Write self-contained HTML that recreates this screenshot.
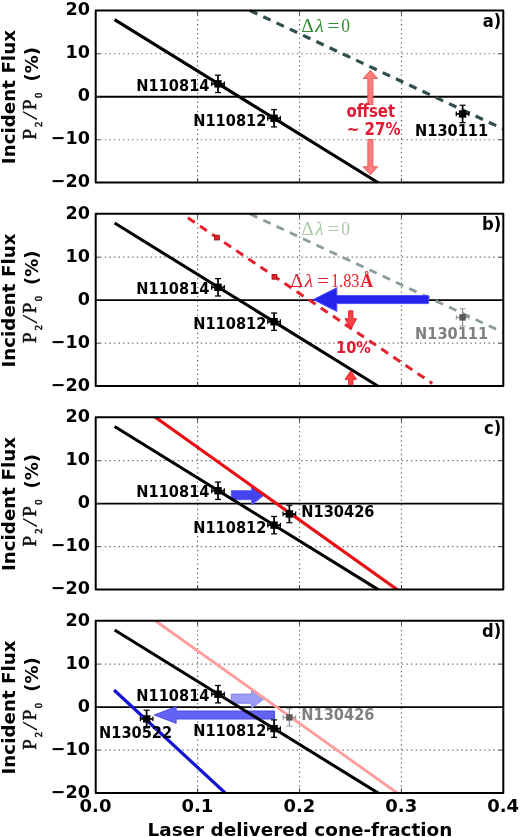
<!DOCTYPE html>
<html><head><meta charset="utf-8"><title>Incident Flux vs cone-fraction</title>
<style>html,body{margin:0;padding:0;background:#fff}svg{display:block;filter:blur(0.6px)}</style></head>
<body>
<svg width="520" height="837" viewBox="0 0 520 837">
<defs>
<clipPath id="c0"><rect x="95.7" y="10.40" width="407.60" height="172.2"/></clipPath>
<clipPath id="c1"><rect x="95.7" y="213.85" width="407.60" height="172.2"/></clipPath>
<clipPath id="c2"><rect x="95.7" y="417.30" width="407.60" height="172.2"/></clipPath>
<clipPath id="c3"><rect x="95.7" y="620.75" width="407.60" height="172.2"/></clipPath>
</defs>
<rect width="520" height="837" fill="#fff"/>
<line x1="197.62" y1="10.40" x2="197.62" y2="182.60" stroke="#666" stroke-width="1.2" stroke-dasharray="1.3 3.27"/>
<line x1="299.54" y1="10.40" x2="299.54" y2="182.60" stroke="#666" stroke-width="1.2" stroke-dasharray="1.3 3.27"/>
<line x1="401.46" y1="10.40" x2="401.46" y2="182.60" stroke="#666" stroke-width="1.2" stroke-dasharray="1.3 3.27"/>
<line x1="95.70" y1="53.75" x2="503.30" y2="53.75" stroke="#666" stroke-width="1.2" stroke-dasharray="1.3 3.27"/>
<line x1="95.70" y1="139.75" x2="503.30" y2="139.75" stroke="#666" stroke-width="1.2" stroke-dasharray="1.3 3.27"/>
<g clip-path="url(#c0)">
<line x1="95.70" y1="96.75" x2="503.30" y2="96.75" stroke="#000" stroke-width="1.8"/>
<line x1="114.60" y1="19.60" x2="378.60" y2="183.00" stroke="#000" stroke-width="3.05"/>
<line x1="250.00" y1="10.50" x2="503.30" y2="129.00" stroke="#2f4f4f" stroke-width="3.2" stroke-dasharray="8.1 6.55"/>
</g>
<g stroke="#000" stroke-width="1.75" fill="#000">
<line x1="218.00" y1="75.15" x2="218.00" y2="92.55"/>
<line x1="211.70" y1="83.85" x2="224.30" y2="83.85"/>
<line x1="215.00" y1="75.15" x2="221.00" y2="75.15" stroke-width="1.26"/>
<line x1="215.00" y1="92.55" x2="221.00" y2="92.55" stroke-width="1.26"/>
<line x1="211.70" y1="81.45" x2="211.70" y2="86.25" stroke-width="1.26"/>
<line x1="224.30" y1="81.45" x2="224.30" y2="86.25" stroke-width="1.26"/>
<rect x="214.30" y="80.15" width="7.4" height="7.4" stroke="none"/>
</g>
<g stroke="#000" stroke-width="1.75" fill="#000">
<line x1="274.06" y1="109.55" x2="274.06" y2="126.95"/>
<line x1="267.76" y1="118.25" x2="280.36" y2="118.25"/>
<line x1="271.06" y1="109.55" x2="277.06" y2="109.55" stroke-width="1.26"/>
<line x1="271.06" y1="126.95" x2="277.06" y2="126.95" stroke-width="1.26"/>
<line x1="267.76" y1="115.85" x2="267.76" y2="120.65" stroke-width="1.26"/>
<line x1="280.36" y1="115.85" x2="280.36" y2="120.65" stroke-width="1.26"/>
<rect x="270.36" y="114.55" width="7.4" height="7.4" stroke="none"/>
</g>
<g stroke="#000" stroke-width="1.75" fill="#000">
<line x1="462.61" y1="105.25" x2="462.61" y2="122.65"/>
<line x1="456.31" y1="113.95" x2="468.91" y2="113.95"/>
<line x1="459.61" y1="105.25" x2="465.61" y2="105.25" stroke-width="1.26"/>
<line x1="459.61" y1="122.65" x2="465.61" y2="122.65" stroke-width="1.26"/>
<line x1="456.31" y1="111.55" x2="456.31" y2="116.35" stroke-width="1.26"/>
<line x1="468.91" y1="111.55" x2="468.91" y2="116.35" stroke-width="1.26"/>
<rect x="458.91" y="110.25" width="7.4" height="7.4" stroke="none"/>
</g>
<text transform="translate(136.30,90.50) scale(1,1.12)" font-family='"DejaVu Sans","Liberation Sans",sans-serif' font-size="14.6" font-weight="bold" fill="#000" text-anchor="start">N110814</text>
<text transform="translate(193.20,126.00) scale(1,1.12)" font-family='"DejaVu Sans","Liberation Sans",sans-serif' font-size="14.6" font-weight="bold" fill="#000" text-anchor="start">N110812</text>
<text transform="translate(415.00,136.00) scale(1,1.12)" font-family='"DejaVu Sans","Liberation Sans",sans-serif' font-size="14.6" font-weight="bold" fill="#000" text-anchor="start">N130111</text>
<text y="31.60" font-family='"Liberation Serif","DejaVu Serif",serif' font-size="19.5" fill="#2e8b2e"><tspan x="301.2">Δ</tspan><tspan x="315.2" font-style="italic">λ</tspan><tspan x="327.6" textLength="12" lengthAdjust="spacingAndGlyphs">=</tspan><tspan x="341.2" textLength="8.8" lengthAdjust="spacingAndGlyphs">0</tspan></text>
<polygon points="367.90,104.50 367.90,78.40 363.20,78.40 370.40,70.40 377.60,78.40 372.90,78.40 372.90,104.50" fill="#ff7d7d" stroke="#e85a5a" stroke-width="1"/>
<polygon points="367.90,139.50 367.90,166.80 363.20,166.80 370.40,174.80 377.60,166.80 372.90,166.80 372.90,139.50" fill="#ff7d7d" stroke="#e85a5a" stroke-width="1"/>
<text transform="translate(370.80,116.60) scale(1,1.12)" font-family='"DejaVu Sans","Liberation Sans",sans-serif' font-size="15.0" font-weight="bold" fill="#e01a30" text-anchor="middle">offset</text>
<text transform="translate(373.60,135.30) scale(1,1.12)" font-family='"DejaVu Sans","Liberation Sans",sans-serif' font-size="15.0" font-weight="bold" fill="#e01a30" text-anchor="middle">~ 27%</text>
<rect x="95.70" y="10.40" width="407.60" height="172.20" fill="none" stroke="#000" stroke-width="2.0" stroke-linejoin="round"/>
<text transform="translate(90.00,15.15) scale(1,1.04)" font-family='"DejaVu Sans","Liberation Sans",sans-serif' font-size="17.6" font-weight="bold" fill="#000" text-anchor="end">20</text>
<text transform="translate(90.00,58.15) scale(1,1.04)" font-family='"DejaVu Sans","Liberation Sans",sans-serif' font-size="17.6" font-weight="bold" fill="#000" text-anchor="end">10</text>
<text transform="translate(90.00,101.15) scale(1,1.04)" font-family='"DejaVu Sans","Liberation Sans",sans-serif' font-size="17.6" font-weight="bold" fill="#000" text-anchor="end">0</text>
<text transform="translate(90.00,144.15) scale(1,1.04)" font-family='"DejaVu Sans","Liberation Sans",sans-serif' font-size="17.6" font-weight="bold" fill="#000" text-anchor="end">−10</text>
<text transform="translate(90.00,187.15) scale(1,1.04)" font-family='"DejaVu Sans","Liberation Sans",sans-serif' font-size="17.6" font-weight="bold" fill="#000" text-anchor="end">−20</text>
<text transform="translate(501.20,26.90) scale(1,1.04)" font-family='"DejaVu Sans","Liberation Sans",sans-serif' font-size="16.4" font-weight="bold" fill="#000" text-anchor="end">a)</text>
<text transform="translate(15.4,97.10) rotate(-90)" font-family='"DejaVu Sans","Liberation Sans",sans-serif' font-size="18.3" font-weight="bold" text-anchor="middle">Incident Flux</text>
<text transform="translate(36.2,139.50) rotate(-90)" fill="#111" stroke="#111" stroke-width="0.55" font-family='"Liberation Serif","DejaVu Serif",serif'><tspan x="0" y="0" font-size="19">P</tspan><tspan x="12.6" y="5.8" font-size="10.5">2</tspan><tspan x="19.2" y="0.8" font-size="21" textLength="9.4" lengthAdjust="spacingAndGlyphs" stroke="none">/</tspan><tspan x="29.6" y="0" font-size="19">P</tspan><tspan x="41.6" y="5.8" font-size="10.5">0</tspan><tspan x="58.0" y="1.6" font-family='"DejaVu Sans","Liberation Sans",sans-serif' font-weight="bold" font-size="18.0" fill="#000" stroke="none">(%)</tspan></text>
<line x1="197.62" y1="10.40" x2="197.62" y2="14.90" stroke="#333" stroke-width="0.9"/>
<line x1="197.62" y1="182.60" x2="197.62" y2="178.10" stroke="#333" stroke-width="0.9"/>
<line x1="299.54" y1="10.40" x2="299.54" y2="14.90" stroke="#333" stroke-width="0.9"/>
<line x1="299.54" y1="182.60" x2="299.54" y2="178.10" stroke="#333" stroke-width="0.9"/>
<line x1="401.46" y1="10.40" x2="401.46" y2="14.90" stroke="#333" stroke-width="0.9"/>
<line x1="401.46" y1="182.60" x2="401.46" y2="178.10" stroke="#333" stroke-width="0.9"/>
<line x1="95.70" y1="53.75" x2="100.20" y2="53.75" stroke="#333" stroke-width="0.9"/>
<line x1="503.30" y1="53.75" x2="498.80" y2="53.75" stroke="#333" stroke-width="0.9"/>
<line x1="95.70" y1="96.75" x2="100.20" y2="96.75" stroke="#333" stroke-width="0.9"/>
<line x1="503.30" y1="96.75" x2="498.80" y2="96.75" stroke="#333" stroke-width="0.9"/>
<line x1="95.70" y1="139.75" x2="100.20" y2="139.75" stroke="#333" stroke-width="0.9"/>
<line x1="503.30" y1="139.75" x2="498.80" y2="139.75" stroke="#333" stroke-width="0.9"/>
<line x1="197.62" y1="213.85" x2="197.62" y2="386.05" stroke="#666" stroke-width="1.2" stroke-dasharray="1.3 3.27"/>
<line x1="299.54" y1="213.85" x2="299.54" y2="386.05" stroke="#666" stroke-width="1.2" stroke-dasharray="1.3 3.27"/>
<line x1="401.46" y1="213.85" x2="401.46" y2="386.05" stroke="#666" stroke-width="1.2" stroke-dasharray="1.3 3.27"/>
<line x1="95.70" y1="257.20" x2="503.30" y2="257.20" stroke="#666" stroke-width="1.2" stroke-dasharray="1.3 3.27"/>
<line x1="95.70" y1="343.20" x2="503.30" y2="343.20" stroke="#666" stroke-width="1.2" stroke-dasharray="1.3 3.27"/>
<g clip-path="url(#c1)">
<line x1="95.70" y1="300.20" x2="503.30" y2="300.20" stroke="#000" stroke-width="1.8"/>
<polygon points="348.70,310.80 348.70,318.70 345.10,318.70 350.80,329.20 356.50,318.70 352.90,318.70 352.90,310.80" fill="#ff4040" stroke="#e6202d" stroke-width="1"/>
<polygon points="348.70,392.00 348.70,379.30 345.10,379.30 350.80,370.80 356.50,379.30 352.90,379.30 352.90,392.00" fill="#ff4040" stroke="#e6202d" stroke-width="1"/>
<line x1="114.60" y1="223.05" x2="378.60" y2="386.45" stroke="#000" stroke-width="3.05"/>
<line x1="250.00" y1="213.95" x2="503.30" y2="332.45" stroke="#8b9c9c" stroke-width="2.8" stroke-dasharray="8.1 6.55"/>
<line x1="187.90" y1="217.80" x2="432.30" y2="383.40" stroke="#e6202d" stroke-width="3.0" stroke-dasharray="8.3 6.3"/>
</g>
<rect x="214.50" y="235.20" width="4.8" height="4.8" fill="#e6202d" stroke="#8a1010" stroke-width="0.8"/>
<rect x="272.00" y="274.40" width="4.8" height="4.8" fill="#e6202d" stroke="#8a1010" stroke-width="0.8"/>
<g stroke="#000" stroke-width="1.75" fill="#000">
<line x1="218.00" y1="278.60" x2="218.00" y2="296.00"/>
<line x1="211.70" y1="287.30" x2="224.30" y2="287.30"/>
<line x1="215.00" y1="278.60" x2="221.00" y2="278.60" stroke-width="1.26"/>
<line x1="215.00" y1="296.00" x2="221.00" y2="296.00" stroke-width="1.26"/>
<line x1="211.70" y1="284.90" x2="211.70" y2="289.70" stroke-width="1.26"/>
<line x1="224.30" y1="284.90" x2="224.30" y2="289.70" stroke-width="1.26"/>
<rect x="214.30" y="283.60" width="7.4" height="7.4" stroke="none"/>
</g>
<g stroke="#000" stroke-width="1.75" fill="#000">
<line x1="274.06" y1="313.00" x2="274.06" y2="330.40"/>
<line x1="267.76" y1="321.70" x2="280.36" y2="321.70"/>
<line x1="271.06" y1="313.00" x2="277.06" y2="313.00" stroke-width="1.26"/>
<line x1="271.06" y1="330.40" x2="277.06" y2="330.40" stroke-width="1.26"/>
<line x1="267.76" y1="319.30" x2="267.76" y2="324.10" stroke-width="1.26"/>
<line x1="280.36" y1="319.30" x2="280.36" y2="324.10" stroke-width="1.26"/>
<rect x="270.36" y="318.00" width="7.4" height="7.4" stroke="none"/>
</g>
<g stroke="#8c8c8c" stroke-width="1.2" fill="#585858">
<line x1="462.61" y1="308.70" x2="462.61" y2="326.10"/>
<line x1="456.31" y1="317.40" x2="468.91" y2="317.40"/>
<line x1="459.61" y1="308.70" x2="465.61" y2="308.70" stroke-width="0.86"/>
<line x1="459.61" y1="326.10" x2="465.61" y2="326.10" stroke-width="0.86"/>
<line x1="456.31" y1="315.00" x2="456.31" y2="319.80" stroke-width="0.86"/>
<line x1="468.91" y1="315.00" x2="468.91" y2="319.80" stroke-width="0.86"/>
<rect x="459.41" y="314.20" width="6.4" height="6.4" stroke="none"/>
</g>
<text transform="translate(136.30,293.95) scale(1,1.12)" font-family='"DejaVu Sans","Liberation Sans",sans-serif' font-size="14.6" font-weight="bold" fill="#000" text-anchor="start">N110814</text>
<text transform="translate(193.20,329.45) scale(1,1.12)" font-family='"DejaVu Sans","Liberation Sans",sans-serif' font-size="14.6" font-weight="bold" fill="#000" text-anchor="start">N110812</text>
<text transform="translate(415.00,339.45) scale(1,1.12)" font-family='"DejaVu Sans","Liberation Sans",sans-serif' font-size="14.6" font-weight="bold" fill="#808080" text-anchor="start">N130111</text>
<text y="235.05" font-family='"Liberation Serif","DejaVu Serif",serif' font-size="19.5" fill="#a9c9a9"><tspan x="301.2">Δ</tspan><tspan x="315.2" font-style="italic">λ</tspan><tspan x="327.6" textLength="12" lengthAdjust="spacingAndGlyphs">=</tspan><tspan x="341.2" textLength="8.8" lengthAdjust="spacingAndGlyphs">0</tspan></text>
<text y="287.2" font-family='"Liberation Serif","DejaVu Serif",serif' font-size="19.5" fill="#e6202d"><tspan x="290.4">Δ</tspan><tspan x="304.8" font-style="italic">λ</tspan><tspan x="317.2" textLength="11.6" lengthAdjust="spacingAndGlyphs">=</tspan><tspan x="331" textLength="28.4" lengthAdjust="spacingAndGlyphs">1.83</tspan><tspan x="360.3" font-weight="bold" font-size="18">Å</tspan></text>
<polygon points="428.40,295.60 336.80,295.60 336.80,287.80 313.20,299.60 336.80,311.40 336.80,303.60 428.40,303.60" fill="#2424ea" stroke="#4c4cff" stroke-width="1" opacity="1"/>
<text transform="translate(353.50,353.00) scale(1,1.12)" font-family='"DejaVu Sans","Liberation Sans",sans-serif' font-size="14.6" font-weight="bold" fill="#e01a30" text-anchor="middle">10%</text>
<rect x="95.70" y="213.85" width="407.60" height="172.20" fill="none" stroke="#000" stroke-width="2.0" stroke-linejoin="round"/>
<text transform="translate(90.00,218.60) scale(1,1.04)" font-family='"DejaVu Sans","Liberation Sans",sans-serif' font-size="17.6" font-weight="bold" fill="#000" text-anchor="end">20</text>
<text transform="translate(90.00,261.60) scale(1,1.04)" font-family='"DejaVu Sans","Liberation Sans",sans-serif' font-size="17.6" font-weight="bold" fill="#000" text-anchor="end">10</text>
<text transform="translate(90.00,304.60) scale(1,1.04)" font-family='"DejaVu Sans","Liberation Sans",sans-serif' font-size="17.6" font-weight="bold" fill="#000" text-anchor="end">0</text>
<text transform="translate(90.00,347.60) scale(1,1.04)" font-family='"DejaVu Sans","Liberation Sans",sans-serif' font-size="17.6" font-weight="bold" fill="#000" text-anchor="end">−10</text>
<text transform="translate(90.00,390.60) scale(1,1.04)" font-family='"DejaVu Sans","Liberation Sans",sans-serif' font-size="17.6" font-weight="bold" fill="#000" text-anchor="end">−20</text>
<text transform="translate(501.20,230.35) scale(1,1.04)" font-family='"DejaVu Sans","Liberation Sans",sans-serif' font-size="16.4" font-weight="bold" fill="#000" text-anchor="end">b)</text>
<text transform="translate(15.4,300.55) rotate(-90)" font-family='"DejaVu Sans","Liberation Sans",sans-serif' font-size="18.3" font-weight="bold" text-anchor="middle">Incident Flux</text>
<text transform="translate(36.2,342.95) rotate(-90)" fill="#111" stroke="#111" stroke-width="0.55" font-family='"Liberation Serif","DejaVu Serif",serif'><tspan x="0" y="0" font-size="19">P</tspan><tspan x="12.6" y="5.8" font-size="10.5">2</tspan><tspan x="19.2" y="0.8" font-size="21" textLength="9.4" lengthAdjust="spacingAndGlyphs" stroke="none">/</tspan><tspan x="29.6" y="0" font-size="19">P</tspan><tspan x="41.6" y="5.8" font-size="10.5">0</tspan><tspan x="58.0" y="1.6" font-family='"DejaVu Sans","Liberation Sans",sans-serif' font-weight="bold" font-size="18.0" fill="#000" stroke="none">(%)</tspan></text>
<line x1="197.62" y1="213.85" x2="197.62" y2="218.35" stroke="#333" stroke-width="0.9"/>
<line x1="197.62" y1="386.05" x2="197.62" y2="381.55" stroke="#333" stroke-width="0.9"/>
<line x1="299.54" y1="213.85" x2="299.54" y2="218.35" stroke="#333" stroke-width="0.9"/>
<line x1="299.54" y1="386.05" x2="299.54" y2="381.55" stroke="#333" stroke-width="0.9"/>
<line x1="401.46" y1="213.85" x2="401.46" y2="218.35" stroke="#333" stroke-width="0.9"/>
<line x1="401.46" y1="386.05" x2="401.46" y2="381.55" stroke="#333" stroke-width="0.9"/>
<line x1="95.70" y1="257.20" x2="100.20" y2="257.20" stroke="#333" stroke-width="0.9"/>
<line x1="503.30" y1="257.20" x2="498.80" y2="257.20" stroke="#333" stroke-width="0.9"/>
<line x1="95.70" y1="300.20" x2="100.20" y2="300.20" stroke="#333" stroke-width="0.9"/>
<line x1="503.30" y1="300.20" x2="498.80" y2="300.20" stroke="#333" stroke-width="0.9"/>
<line x1="95.70" y1="343.20" x2="100.20" y2="343.20" stroke="#333" stroke-width="0.9"/>
<line x1="503.30" y1="343.20" x2="498.80" y2="343.20" stroke="#333" stroke-width="0.9"/>
<line x1="197.62" y1="417.30" x2="197.62" y2="589.50" stroke="#666" stroke-width="1.2" stroke-dasharray="1.3 3.27"/>
<line x1="299.54" y1="417.30" x2="299.54" y2="589.50" stroke="#666" stroke-width="1.2" stroke-dasharray="1.3 3.27"/>
<line x1="401.46" y1="417.30" x2="401.46" y2="589.50" stroke="#666" stroke-width="1.2" stroke-dasharray="1.3 3.27"/>
<line x1="95.70" y1="460.65" x2="503.30" y2="460.65" stroke="#666" stroke-width="1.2" stroke-dasharray="1.3 3.27"/>
<line x1="95.70" y1="546.65" x2="503.30" y2="546.65" stroke="#666" stroke-width="1.2" stroke-dasharray="1.3 3.27"/>
<g clip-path="url(#c2)">
<line x1="95.70" y1="503.65" x2="503.30" y2="503.65" stroke="#000" stroke-width="1.8"/>
<polygon points="231.30,490.70 251.60,490.70 251.60,485.60 264.20,495.20 251.60,504.80 251.60,499.70 231.30,499.70" fill="#4444ee" stroke="#5a5aff" stroke-width="1" opacity="1"/>
<line x1="155.00" y1="417.00" x2="397.80" y2="590.00" stroke="#e80f14" stroke-width="3.2"/>
<line x1="114.60" y1="426.50" x2="378.60" y2="589.90" stroke="#000" stroke-width="3.05"/>
</g>
<g stroke="#000" stroke-width="1.75" fill="#000">
<line x1="218.00" y1="482.05" x2="218.00" y2="499.45"/>
<line x1="211.70" y1="490.75" x2="224.30" y2="490.75"/>
<line x1="215.00" y1="482.05" x2="221.00" y2="482.05" stroke-width="1.26"/>
<line x1="215.00" y1="499.45" x2="221.00" y2="499.45" stroke-width="1.26"/>
<line x1="211.70" y1="488.35" x2="211.70" y2="493.15" stroke-width="1.26"/>
<line x1="224.30" y1="488.35" x2="224.30" y2="493.15" stroke-width="1.26"/>
<rect x="214.30" y="487.05" width="7.4" height="7.4" stroke="none"/>
</g>
<g stroke="#000" stroke-width="1.75" fill="#000">
<line x1="274.06" y1="516.45" x2="274.06" y2="533.85"/>
<line x1="267.76" y1="525.15" x2="280.36" y2="525.15"/>
<line x1="271.06" y1="516.45" x2="277.06" y2="516.45" stroke-width="1.26"/>
<line x1="271.06" y1="533.85" x2="277.06" y2="533.85" stroke-width="1.26"/>
<line x1="267.76" y1="522.75" x2="267.76" y2="527.55" stroke-width="1.26"/>
<line x1="280.36" y1="522.75" x2="280.36" y2="527.55" stroke-width="1.26"/>
<rect x="270.36" y="521.45" width="7.4" height="7.4" stroke="none"/>
</g>
<g stroke="#000" stroke-width="1.75" fill="#000">
<line x1="289.35" y1="505.27" x2="289.35" y2="522.67"/>
<line x1="283.05" y1="513.97" x2="295.65" y2="513.97"/>
<line x1="286.35" y1="505.27" x2="292.35" y2="505.27" stroke-width="1.26"/>
<line x1="286.35" y1="522.67" x2="292.35" y2="522.67" stroke-width="1.26"/>
<line x1="283.05" y1="511.57" x2="283.05" y2="516.37" stroke-width="1.26"/>
<line x1="295.65" y1="511.57" x2="295.65" y2="516.37" stroke-width="1.26"/>
<rect x="285.65" y="510.27" width="7.4" height="7.4" stroke="none"/>
</g>
<text transform="translate(136.30,497.40) scale(1,1.12)" font-family='"DejaVu Sans","Liberation Sans",sans-serif' font-size="14.6" font-weight="bold" fill="#000" text-anchor="start">N110814</text>
<text transform="translate(193.20,532.90) scale(1,1.12)" font-family='"DejaVu Sans","Liberation Sans",sans-serif' font-size="14.6" font-weight="bold" fill="#000" text-anchor="start">N110812</text>
<text transform="translate(301.30,516.90) scale(1,1.12)" font-family='"DejaVu Sans","Liberation Sans",sans-serif' font-size="14.6" font-weight="bold" fill="#000" text-anchor="start">N130426</text>
<rect x="95.70" y="417.30" width="407.60" height="172.20" fill="none" stroke="#000" stroke-width="2.0" stroke-linejoin="round"/>
<text transform="translate(90.00,422.05) scale(1,1.04)" font-family='"DejaVu Sans","Liberation Sans",sans-serif' font-size="17.6" font-weight="bold" fill="#000" text-anchor="end">20</text>
<text transform="translate(90.00,465.05) scale(1,1.04)" font-family='"DejaVu Sans","Liberation Sans",sans-serif' font-size="17.6" font-weight="bold" fill="#000" text-anchor="end">10</text>
<text transform="translate(90.00,508.05) scale(1,1.04)" font-family='"DejaVu Sans","Liberation Sans",sans-serif' font-size="17.6" font-weight="bold" fill="#000" text-anchor="end">0</text>
<text transform="translate(90.00,551.05) scale(1,1.04)" font-family='"DejaVu Sans","Liberation Sans",sans-serif' font-size="17.6" font-weight="bold" fill="#000" text-anchor="end">−10</text>
<text transform="translate(90.00,594.05) scale(1,1.04)" font-family='"DejaVu Sans","Liberation Sans",sans-serif' font-size="17.6" font-weight="bold" fill="#000" text-anchor="end">−20</text>
<text transform="translate(501.20,433.80) scale(1,1.04)" font-family='"DejaVu Sans","Liberation Sans",sans-serif' font-size="16.4" font-weight="bold" fill="#000" text-anchor="end">c)</text>
<text transform="translate(15.4,504.00) rotate(-90)" font-family='"DejaVu Sans","Liberation Sans",sans-serif' font-size="18.3" font-weight="bold" text-anchor="middle">Incident Flux</text>
<text transform="translate(36.2,546.40) rotate(-90)" fill="#111" stroke="#111" stroke-width="0.55" font-family='"Liberation Serif","DejaVu Serif",serif'><tspan x="0" y="0" font-size="19">P</tspan><tspan x="12.6" y="5.8" font-size="10.5">2</tspan><tspan x="19.2" y="0.8" font-size="21" textLength="9.4" lengthAdjust="spacingAndGlyphs" stroke="none">/</tspan><tspan x="29.6" y="0" font-size="19">P</tspan><tspan x="41.6" y="5.8" font-size="10.5">0</tspan><tspan x="58.0" y="1.6" font-family='"DejaVu Sans","Liberation Sans",sans-serif' font-weight="bold" font-size="18.0" fill="#000" stroke="none">(%)</tspan></text>
<line x1="197.62" y1="417.30" x2="197.62" y2="421.80" stroke="#333" stroke-width="0.9"/>
<line x1="197.62" y1="589.50" x2="197.62" y2="585.00" stroke="#333" stroke-width="0.9"/>
<line x1="299.54" y1="417.30" x2="299.54" y2="421.80" stroke="#333" stroke-width="0.9"/>
<line x1="299.54" y1="589.50" x2="299.54" y2="585.00" stroke="#333" stroke-width="0.9"/>
<line x1="401.46" y1="417.30" x2="401.46" y2="421.80" stroke="#333" stroke-width="0.9"/>
<line x1="401.46" y1="589.50" x2="401.46" y2="585.00" stroke="#333" stroke-width="0.9"/>
<line x1="95.70" y1="460.65" x2="100.20" y2="460.65" stroke="#333" stroke-width="0.9"/>
<line x1="503.30" y1="460.65" x2="498.80" y2="460.65" stroke="#333" stroke-width="0.9"/>
<line x1="95.70" y1="503.65" x2="100.20" y2="503.65" stroke="#333" stroke-width="0.9"/>
<line x1="503.30" y1="503.65" x2="498.80" y2="503.65" stroke="#333" stroke-width="0.9"/>
<line x1="95.70" y1="546.65" x2="100.20" y2="546.65" stroke="#333" stroke-width="0.9"/>
<line x1="503.30" y1="546.65" x2="498.80" y2="546.65" stroke="#333" stroke-width="0.9"/>
<line x1="197.62" y1="620.75" x2="197.62" y2="792.95" stroke="#666" stroke-width="1.2" stroke-dasharray="1.3 3.27"/>
<line x1="299.54" y1="620.75" x2="299.54" y2="792.95" stroke="#666" stroke-width="1.2" stroke-dasharray="1.3 3.27"/>
<line x1="401.46" y1="620.75" x2="401.46" y2="792.95" stroke="#666" stroke-width="1.2" stroke-dasharray="1.3 3.27"/>
<line x1="95.70" y1="664.10" x2="503.30" y2="664.10" stroke="#666" stroke-width="1.2" stroke-dasharray="1.3 3.27"/>
<line x1="95.70" y1="750.10" x2="503.30" y2="750.10" stroke="#666" stroke-width="1.2" stroke-dasharray="1.3 3.27"/>
<g clip-path="url(#c3)">
<line x1="95.70" y1="707.10" x2="503.30" y2="707.10" stroke="#000" stroke-width="1.8"/>
<polygon points="231.30,694.15 251.60,694.15 251.60,689.05 264.20,698.65 251.60,708.25 251.60,703.15 231.30,703.15" fill="#9c9cf4" stroke="#7c7cee" stroke-width="1" opacity="1"/>
<polygon points="274.60,711.00 176.10,711.00 176.10,706.70 154.30,715.00 176.10,723.30 176.10,719.00 274.60,719.00" fill="#6262f4" stroke="#4a4ae6" stroke-width="1" opacity="1"/>
<line x1="155.00" y1="620.45" x2="397.80" y2="793.45" stroke="#ff9e9e" stroke-width="2.9"/>
<line x1="114.60" y1="629.95" x2="378.60" y2="793.35" stroke="#000" stroke-width="3.05"/>
<line x1="114.00" y1="690.00" x2="225.20" y2="793.00" stroke="#1414d2" stroke-width="3.2"/>
</g>
<g stroke="#000" stroke-width="1.75" fill="#000">
<line x1="218.00" y1="685.50" x2="218.00" y2="702.90"/>
<line x1="211.70" y1="694.20" x2="224.30" y2="694.20"/>
<line x1="215.00" y1="685.50" x2="221.00" y2="685.50" stroke-width="1.26"/>
<line x1="215.00" y1="702.90" x2="221.00" y2="702.90" stroke-width="1.26"/>
<line x1="211.70" y1="691.80" x2="211.70" y2="696.60" stroke-width="1.26"/>
<line x1="224.30" y1="691.80" x2="224.30" y2="696.60" stroke-width="1.26"/>
<rect x="214.30" y="690.50" width="7.4" height="7.4" stroke="none"/>
</g>
<g stroke="#000" stroke-width="1.75" fill="#000">
<line x1="274.06" y1="719.90" x2="274.06" y2="737.30"/>
<line x1="267.76" y1="728.60" x2="280.36" y2="728.60"/>
<line x1="271.06" y1="719.90" x2="277.06" y2="719.90" stroke-width="1.26"/>
<line x1="271.06" y1="737.30" x2="277.06" y2="737.30" stroke-width="1.26"/>
<line x1="267.76" y1="726.20" x2="267.76" y2="731.00" stroke-width="1.26"/>
<line x1="280.36" y1="726.20" x2="280.36" y2="731.00" stroke-width="1.26"/>
<rect x="270.36" y="724.90" width="7.4" height="7.4" stroke="none"/>
</g>
<g stroke="#8c8c8c" stroke-width="1.2" fill="#585858">
<line x1="289.35" y1="708.72" x2="289.35" y2="726.12"/>
<line x1="283.05" y1="717.42" x2="295.65" y2="717.42"/>
<line x1="286.35" y1="708.72" x2="292.35" y2="708.72" stroke-width="0.86"/>
<line x1="286.35" y1="726.12" x2="292.35" y2="726.12" stroke-width="0.86"/>
<line x1="283.05" y1="715.02" x2="283.05" y2="719.82" stroke-width="0.86"/>
<line x1="295.65" y1="715.02" x2="295.65" y2="719.82" stroke-width="0.86"/>
<rect x="286.15" y="714.22" width="6.4" height="6.4" stroke="none"/>
</g>
<g stroke="#000" stroke-width="1.75" fill="#000">
<line x1="146.66" y1="710.22" x2="146.66" y2="727.62"/>
<line x1="140.36" y1="718.92" x2="152.96" y2="718.92"/>
<line x1="143.66" y1="710.22" x2="149.66" y2="710.22" stroke-width="1.26"/>
<line x1="143.66" y1="727.62" x2="149.66" y2="727.62" stroke-width="1.26"/>
<line x1="140.36" y1="716.52" x2="140.36" y2="721.32" stroke-width="1.26"/>
<line x1="152.96" y1="716.52" x2="152.96" y2="721.32" stroke-width="1.26"/>
<rect x="142.96" y="715.22" width="7.4" height="7.4" stroke="none"/>
</g>
<text transform="translate(136.30,700.85) scale(1,1.12)" font-family='"DejaVu Sans","Liberation Sans",sans-serif' font-size="14.6" font-weight="bold" fill="#000" text-anchor="start">N110814</text>
<text transform="translate(193.20,736.35) scale(1,1.12)" font-family='"DejaVu Sans","Liberation Sans",sans-serif' font-size="14.6" font-weight="bold" fill="#000" text-anchor="start">N110812</text>
<text transform="translate(301.30,720.35) scale(1,1.12)" font-family='"DejaVu Sans","Liberation Sans",sans-serif' font-size="14.6" font-weight="bold" fill="#808080" text-anchor="start">N130426</text>
<text transform="translate(99.00,738.20) scale(1,1.12)" font-family='"DejaVu Sans","Liberation Sans",sans-serif' font-size="14.6" font-weight="bold" fill="#000" text-anchor="start">N130522</text>
<rect x="95.70" y="620.75" width="407.60" height="172.20" fill="none" stroke="#000" stroke-width="2.0" stroke-linejoin="round"/>
<text transform="translate(90.00,625.50) scale(1,1.04)" font-family='"DejaVu Sans","Liberation Sans",sans-serif' font-size="17.6" font-weight="bold" fill="#000" text-anchor="end">20</text>
<text transform="translate(90.00,668.50) scale(1,1.04)" font-family='"DejaVu Sans","Liberation Sans",sans-serif' font-size="17.6" font-weight="bold" fill="#000" text-anchor="end">10</text>
<text transform="translate(90.00,711.50) scale(1,1.04)" font-family='"DejaVu Sans","Liberation Sans",sans-serif' font-size="17.6" font-weight="bold" fill="#000" text-anchor="end">0</text>
<text transform="translate(90.00,754.50) scale(1,1.04)" font-family='"DejaVu Sans","Liberation Sans",sans-serif' font-size="17.6" font-weight="bold" fill="#000" text-anchor="end">−10</text>
<text transform="translate(90.00,797.50) scale(1,1.04)" font-family='"DejaVu Sans","Liberation Sans",sans-serif' font-size="17.6" font-weight="bold" fill="#000" text-anchor="end">−20</text>
<text transform="translate(501.20,637.25) scale(1,1.04)" font-family='"DejaVu Sans","Liberation Sans",sans-serif' font-size="16.4" font-weight="bold" fill="#000" text-anchor="end">d)</text>
<text transform="translate(15.4,707.45) rotate(-90)" font-family='"DejaVu Sans","Liberation Sans",sans-serif' font-size="18.3" font-weight="bold" text-anchor="middle">Incident Flux</text>
<text transform="translate(36.2,749.85) rotate(-90)" fill="#111" stroke="#111" stroke-width="0.55" font-family='"Liberation Serif","DejaVu Serif",serif'><tspan x="0" y="0" font-size="19">P</tspan><tspan x="12.6" y="5.8" font-size="10.5">2</tspan><tspan x="19.2" y="0.8" font-size="21" textLength="9.4" lengthAdjust="spacingAndGlyphs" stroke="none">/</tspan><tspan x="29.6" y="0" font-size="19">P</tspan><tspan x="41.6" y="5.8" font-size="10.5">0</tspan><tspan x="58.0" y="1.6" font-family='"DejaVu Sans","Liberation Sans",sans-serif' font-weight="bold" font-size="18.0" fill="#000" stroke="none">(%)</tspan></text>
<line x1="197.62" y1="620.75" x2="197.62" y2="625.25" stroke="#333" stroke-width="0.9"/>
<line x1="197.62" y1="792.95" x2="197.62" y2="788.45" stroke="#333" stroke-width="0.9"/>
<line x1="299.54" y1="620.75" x2="299.54" y2="625.25" stroke="#333" stroke-width="0.9"/>
<line x1="299.54" y1="792.95" x2="299.54" y2="788.45" stroke="#333" stroke-width="0.9"/>
<line x1="401.46" y1="620.75" x2="401.46" y2="625.25" stroke="#333" stroke-width="0.9"/>
<line x1="401.46" y1="792.95" x2="401.46" y2="788.45" stroke="#333" stroke-width="0.9"/>
<line x1="95.70" y1="664.10" x2="100.20" y2="664.10" stroke="#333" stroke-width="0.9"/>
<line x1="503.30" y1="664.10" x2="498.80" y2="664.10" stroke="#333" stroke-width="0.9"/>
<line x1="95.70" y1="707.10" x2="100.20" y2="707.10" stroke="#333" stroke-width="0.9"/>
<line x1="503.30" y1="707.10" x2="498.80" y2="707.10" stroke="#333" stroke-width="0.9"/>
<line x1="95.70" y1="750.10" x2="100.20" y2="750.10" stroke="#333" stroke-width="0.9"/>
<line x1="503.30" y1="750.10" x2="498.80" y2="750.10" stroke="#333" stroke-width="0.9"/>
<text x="95.50" y="812.20" font-family='"DejaVu Sans","Liberation Sans",sans-serif' font-size="18.0" font-weight="bold" fill="#000" text-anchor="middle">0.0</text>
<text x="197.42" y="812.20" font-family='"DejaVu Sans","Liberation Sans",sans-serif' font-size="18.0" font-weight="bold" fill="#000" text-anchor="middle">0.1</text>
<text x="299.34" y="812.20" font-family='"DejaVu Sans","Liberation Sans",sans-serif' font-size="18.0" font-weight="bold" fill="#000" text-anchor="middle">0.2</text>
<text x="401.26" y="812.20" font-family='"DejaVu Sans","Liberation Sans",sans-serif' font-size="18.0" font-weight="bold" fill="#000" text-anchor="middle">0.3</text>
<text x="503.18" y="812.20" font-family='"DejaVu Sans","Liberation Sans",sans-serif' font-size="18.0" font-weight="bold" fill="#000" text-anchor="middle">0.4</text>
<text transform="translate(299.9,835.5)" font-family='"DejaVu Sans","Liberation Sans",sans-serif' font-size="18.4" font-weight="bold" text-anchor="middle">Laser delivered cone-fraction</text>
</svg>
</body></html>
